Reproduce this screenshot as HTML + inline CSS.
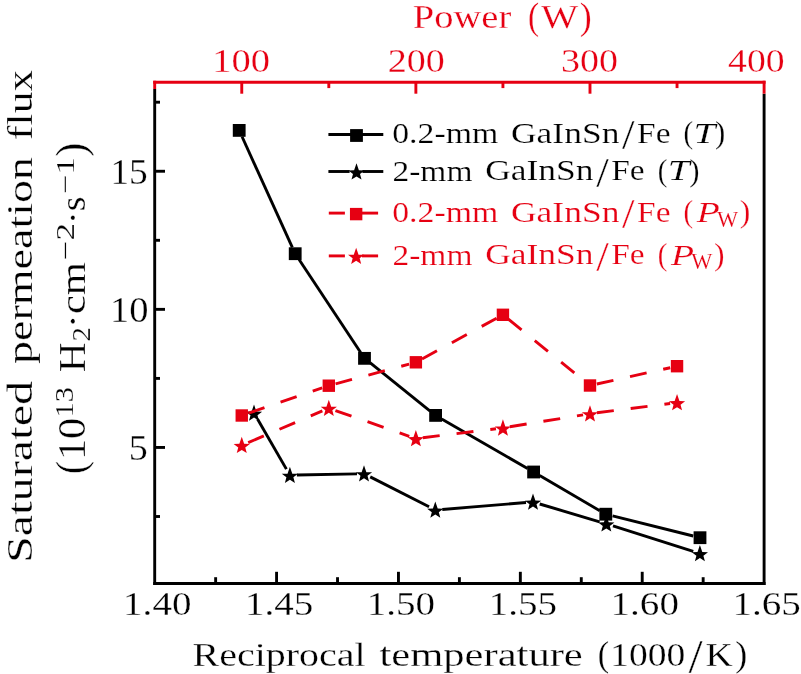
<!DOCTYPE html>
<html><head><meta charset="utf-8"><style>
html,body{margin:0;padding:0;background:#fff;width:801px;height:674px;overflow:hidden}
svg{display:block;will-change:transform}
text{font-family:"Liberation Serif",serif;font-size:80px;stroke:#fff;stroke-width:0.6px}
</style></head><body>
<svg width="801" height="674" viewBox="0 0 801 674">
<rect width="801" height="674" fill="#fff"/>
<line x1="154.70" y1="89.00" x2="154.70" y2="584.95" stroke="#000" stroke-width="2.9" />
<line x1="764.10" y1="93.70" x2="764.10" y2="584.95" stroke="#000" stroke-width="2.9" />
<line x1="153.25" y1="583.50" x2="765.55" y2="583.50" stroke="#000" stroke-width="2.9" />
<line x1="153.25" y1="82.20" x2="765.55" y2="82.20" stroke="#e60012" stroke-width="2.9" />
<line x1="154.70" y1="80.75" x2="154.70" y2="89.00" stroke="#e60012" stroke-width="2.9" />
<line x1="764.10" y1="80.75" x2="764.10" y2="93.70" stroke="#e60012" stroke-width="2.9" />
<line x1="241.76" y1="82.20" x2="241.76" y2="93.70" stroke="#e60012" stroke-width="2.9" />
<line x1="328.81" y1="82.20" x2="328.81" y2="88.10" stroke="#e60012" stroke-width="2.9" />
<line x1="415.87" y1="82.20" x2="415.87" y2="93.70" stroke="#e60012" stroke-width="2.9" />
<line x1="502.93" y1="82.20" x2="502.93" y2="88.10" stroke="#e60012" stroke-width="2.9" />
<line x1="589.99" y1="82.20" x2="589.99" y2="93.70" stroke="#e60012" stroke-width="2.9" />
<line x1="677.04" y1="82.20" x2="677.04" y2="88.10" stroke="#e60012" stroke-width="2.9" />
<line x1="215.64" y1="583.50" x2="215.64" y2="577.20" stroke="#000" stroke-width="2.9" />
<line x1="276.58" y1="583.50" x2="276.58" y2="571.80" stroke="#000" stroke-width="2.9" />
<line x1="337.52" y1="583.50" x2="337.52" y2="577.20" stroke="#000" stroke-width="2.9" />
<line x1="398.46" y1="583.50" x2="398.46" y2="571.80" stroke="#000" stroke-width="2.9" />
<line x1="459.40" y1="583.50" x2="459.40" y2="577.20" stroke="#000" stroke-width="2.9" />
<line x1="520.34" y1="583.50" x2="520.34" y2="571.80" stroke="#000" stroke-width="2.9" />
<line x1="581.28" y1="583.50" x2="581.28" y2="577.20" stroke="#000" stroke-width="2.9" />
<line x1="642.22" y1="583.50" x2="642.22" y2="571.80" stroke="#000" stroke-width="2.9" />
<line x1="703.16" y1="583.50" x2="703.16" y2="577.20" stroke="#000" stroke-width="2.9" />
<line x1="154.70" y1="516.50" x2="160.00" y2="516.50" stroke="#000" stroke-width="2.9" />
<line x1="154.70" y1="447.45" x2="165.00" y2="447.45" stroke="#000" stroke-width="2.9" />
<line x1="154.70" y1="378.40" x2="160.00" y2="378.40" stroke="#000" stroke-width="2.9" />
<line x1="154.70" y1="309.35" x2="165.00" y2="309.35" stroke="#000" stroke-width="2.9" />
<line x1="154.70" y1="240.30" x2="160.00" y2="240.30" stroke="#000" stroke-width="2.9" />
<line x1="154.70" y1="171.25" x2="165.00" y2="171.25" stroke="#000" stroke-width="2.9" />
<line x1="154.70" y1="102.20" x2="160.00" y2="102.20" stroke="#000" stroke-width="2.9" />
<line x1="242.09" y1="136.77" x2="292.31" y2="247.33" stroke="#000" stroke-width="2.9" />
<line x1="299.06" y1="259.54" x2="360.64" y2="352.51" stroke="#000" stroke-width="2.9" />
<line x1="369.96" y1="362.73" x2="430.14" y2="411.02" stroke="#000" stroke-width="2.9" />
<line x1="441.66" y1="418.90" x2="527.54" y2="468.50" stroke="#000" stroke-width="2.9" />
<line x1="539.64" y1="475.53" x2="599.76" y2="510.67" stroke="#000" stroke-width="2.9" />
<line x1="612.59" y1="515.89" x2="693.21" y2="536.01" stroke="#000" stroke-width="2.9" />
<rect x="232.80" y="124.00" width="12.8" height="12.8" fill="#000"/>
<rect x="288.80" y="247.30" width="12.8" height="12.8" fill="#000"/>
<rect x="358.10" y="351.95" width="12.8" height="12.8" fill="#000"/>
<rect x="429.20" y="409.00" width="12.8" height="12.8" fill="#000"/>
<rect x="527.20" y="465.60" width="12.8" height="12.8" fill="#000"/>
<rect x="599.40" y="507.80" width="12.8" height="12.8" fill="#000"/>
<rect x="693.60" y="531.30" width="12.8" height="12.8" fill="#000"/>
<line x1="257.50" y1="419.06" x2="286.40" y2="469.14" stroke="#000" stroke-width="2.9" />
<line x1="296.90" y1="475.06" x2="357.00" y2="473.84" stroke="#000" stroke-width="2.9" />
<line x1="370.24" y1="476.88" x2="429.06" y2="506.82" stroke="#000" stroke-width="2.9" />
<line x1="442.28" y1="509.43" x2="526.02" y2="502.57" stroke="#000" stroke-width="2.9" />
<line x1="539.71" y1="504.00" x2="599.59" y2="521.80" stroke="#000" stroke-width="2.9" />
<line x1="612.97" y1="525.92" x2="693.23" y2="551.38" stroke="#000" stroke-width="2.9" />
<path d="M254.00,404.45 L256.39,411.52 L262.10,411.65 L257.50,415.17 L259.00,420.75 L254.00,417.60 L249.00,420.75 L250.50,415.17 L245.90,411.65 L251.61,411.52Z" fill="#000"/>
<path d="M289.90,466.65 L292.29,473.72 L298.00,473.85 L293.40,477.37 L294.90,482.95 L289.90,479.80 L284.90,482.95 L286.40,477.37 L281.80,473.85 L287.51,473.72Z" fill="#000"/>
<path d="M364.00,465.15 L366.39,472.22 L372.10,472.35 L367.50,475.87 L369.00,481.45 L364.00,478.30 L359.00,481.45 L360.50,475.87 L355.90,472.35 L361.61,472.22Z" fill="#000"/>
<path d="M435.30,501.45 L437.69,508.52 L443.40,508.65 L438.80,512.17 L440.30,517.75 L435.30,514.60 L430.30,517.75 L431.80,512.17 L427.20,508.65 L432.91,508.52Z" fill="#000"/>
<path d="M533.00,493.45 L535.39,500.52 L541.10,500.65 L536.50,504.17 L538.00,509.75 L533.00,506.60 L528.00,509.75 L529.50,504.17 L524.90,500.65 L530.61,500.52Z" fill="#000"/>
<path d="M606.30,515.25 L608.69,522.32 L614.40,522.45 L609.80,525.97 L611.30,531.55 L606.30,528.40 L601.30,531.55 L602.80,525.97 L598.20,522.45 L603.91,522.32Z" fill="#000"/>
<path d="M699.90,544.95 L702.29,552.02 L708.00,552.15 L703.40,555.67 L704.90,561.25 L699.90,558.10 L694.90,561.25 L696.40,555.67 L691.80,552.15 L697.51,552.02Z" fill="#000"/>
<line x1="248.38" y1="413.23" x2="322.19" y2="387.97" stroke="#e60012" stroke-width="2.9" stroke-dasharray="17 17"/>
<line x1="335.57" y1="383.88" x2="409.11" y2="364.12" stroke="#e60012" stroke-width="2.9" stroke-dasharray="17 17"/>
<line x1="422.02" y1="358.95" x2="496.78" y2="318.15" stroke="#e60012" stroke-width="2.9" stroke-dasharray="17 17"/>
<line x1="508.36" y1="319.21" x2="584.55" y2="381.09" stroke="#e60012" stroke-width="2.9" stroke-dasharray="17 17"/>
<line x1="596.82" y1="383.98" x2="670.21" y2="367.72" stroke="#e60012" stroke-width="2.9" stroke-dasharray="17 17"/>
<rect x="235.56" y="409.30" width="12.4" height="12.4" fill="#e60012"/>
<rect x="322.61" y="379.50" width="12.4" height="12.4" fill="#e60012"/>
<rect x="409.67" y="356.10" width="12.4" height="12.4" fill="#e60012"/>
<rect x="496.73" y="308.60" width="12.4" height="12.4" fill="#e60012"/>
<rect x="583.79" y="379.30" width="12.4" height="12.4" fill="#e60012"/>
<rect x="670.84" y="360.00" width="12.4" height="12.4" fill="#e60012"/>
<line x1="248.20" y1="442.56" x2="322.37" y2="410.94" stroke="#e60012" stroke-width="2.9" stroke-dasharray="17 17"/>
<line x1="335.42" y1="410.51" x2="409.26" y2="436.29" stroke="#e60012" stroke-width="2.9" stroke-dasharray="17 17"/>
<line x1="422.82" y1="437.75" x2="495.98" y2="428.75" stroke="#e60012" stroke-width="2.9" stroke-dasharray="17 17"/>
<line x1="509.84" y1="426.77" x2="583.08" y2="414.83" stroke="#e60012" stroke-width="2.9" stroke-dasharray="17 17"/>
<line x1="596.93" y1="412.81" x2="670.10" y2="403.49" stroke="#e60012" stroke-width="2.9" stroke-dasharray="17 17"/>
<path d="M241.76,436.75 L244.14,443.82 L249.86,443.95 L245.26,447.47 L246.76,453.05 L241.76,449.90 L236.76,453.05 L238.25,447.47 L233.66,443.95 L239.37,443.82Z" fill="#e60012"/>
<path d="M328.81,399.65 L331.20,406.72 L336.91,406.85 L332.32,410.37 L333.81,415.95 L328.81,412.80 L323.81,415.95 L325.31,410.37 L320.71,406.85 L326.43,406.72Z" fill="#e60012"/>
<path d="M415.87,430.05 L418.26,437.12 L423.97,437.25 L419.37,440.77 L420.87,446.35 L415.87,443.20 L410.87,446.35 L412.37,440.77 L407.77,437.25 L413.49,437.12Z" fill="#e60012"/>
<path d="M502.93,419.35 L505.31,426.42 L511.03,426.55 L506.43,430.07 L507.93,435.65 L502.93,432.50 L497.93,435.65 L499.43,430.07 L494.83,426.55 L500.54,426.42Z" fill="#e60012"/>
<path d="M589.99,405.15 L592.37,412.22 L598.09,412.35 L593.49,415.87 L594.99,421.45 L589.99,418.30 L584.99,421.45 L586.48,415.87 L581.89,412.35 L587.60,412.22Z" fill="#e60012"/>
<path d="M677.04,394.05 L679.43,401.12 L685.14,401.25 L680.55,404.77 L682.04,410.35 L677.04,407.20 L672.04,410.35 L673.54,404.77 L668.94,401.25 L674.66,401.12Z" fill="#e60012"/>
<line x1="328.40" y1="134.50" x2="383.30" y2="134.50" stroke="#000" stroke-width="2.9" />
<rect x="350.10" y="129.10" width="12.8" height="12.8" fill="#000"/>
<line x1="328.40" y1="171.50" x2="349.60" y2="171.50" stroke="#000" stroke-width="2.9" />
<line x1="362.40" y1="171.50" x2="383.30" y2="171.50" stroke="#000" stroke-width="2.9" />
<path d="M356.50,163.25 L358.89,170.32 L364.60,170.45 L360.00,173.97 L361.50,179.55 L356.50,176.40 L351.50,179.55 L353.00,173.97 L348.40,170.45 L354.11,170.32Z" fill="#000"/>
<line x1="328.80" y1="213.10" x2="344.90" y2="213.10" stroke="#e60012" stroke-width="2.9" />
<line x1="362.00" y1="213.10" x2="378.10" y2="213.10" stroke="#e60012" stroke-width="2.9" />
<rect x="349.95" y="207.90" width="12.4" height="12.4" fill="#e60012"/>
<line x1="328.80" y1="255.90" x2="344.90" y2="255.90" stroke="#e60012" stroke-width="2.9" />
<line x1="362.00" y1="255.90" x2="378.10" y2="255.90" stroke="#e60012" stroke-width="2.9" />
<path d="M356.15,247.65 L358.54,254.72 L364.25,254.85 L359.65,258.37 L361.15,263.95 L356.15,260.80 L351.15,263.95 L352.65,258.37 L348.05,254.85 L353.76,254.72Z" fill="#e60012"/>
<text transform="translate(412.84,27.90) scale(0.4817,0.4302)" fill="#e60012">Power</text>
<text transform="translate(541.00,27.90) scale(0.4933,0.4302)" fill="#e60012">W</text>
<text transform="translate(527.94,28.65) scale(0.4190,0.4616)" fill="#e60012">(</text>
<text transform="translate(579.65,28.65) scale(0.4500,0.4616)" fill="#e60012">)</text>
<text transform="translate(212.13,72.07) scale(0.4818,0.4296)" fill="#e60012">100</text>
<text transform="translate(387.77,72.08) scale(0.4763,0.4218)" fill="#e60012">200</text>
<text transform="translate(560.90,72.08) scale(0.4752,0.4218)" fill="#e60012">300</text>
<text transform="translate(728.06,72.07) scale(0.4713,0.4296)" fill="#e60012">400</text>
<text transform="translate(123.08,614.77) scale(0.4885,0.4296)" fill="#000">1.40</text>
<text transform="translate(244.91,614.77) scale(0.4885,0.4296)" fill="#000">1.45</text>
<text transform="translate(366.79,614.77) scale(0.4885,0.4296)" fill="#000">1.50</text>
<text transform="translate(488.67,614.77) scale(0.4885,0.4296)" fill="#000">1.55</text>
<text transform="translate(610.55,614.77) scale(0.4885,0.4296)" fill="#000">1.60</text>
<text transform="translate(732.43,614.77) scale(0.4885,0.4296)" fill="#000">1.65</text>
<text transform="translate(110.43,183.90) scale(0.4671,0.4377)" fill="#000">15</text>
<text transform="translate(109.93,322.00) scale(0.4814,0.4377)" fill="#000">10</text>
<text transform="translate(128.82,460.10) scale(0.4750,0.4377)" fill="#000">5</text>
<text transform="translate(192.50,665.50) scale(0.5000,0.4245)" fill="#000">Reciprocal</text>
<text transform="translate(379.47,665.50) scale(0.5323,0.4245)" fill="#000">temperature</text>
<text transform="translate(705.55,665.50) scale(0.4727,0.4245)" fill="#000">K</text>
<text transform="translate(610.21,665.58) scale(0.4700,0.4222)" fill="#000">1000</text>
<text transform="translate(597.71,666.07) scale(0.4286,0.4548)" fill="#000">(</text>
<text transform="translate(735.15,666.07) scale(0.4500,0.4548)" fill="#000">)</text>
<text transform="translate(688.50,673.19) scale(0.6364,0.6111)" fill="#000">/</text>
<text transform="translate(31.90,563.12) rotate(-90) scale(0.6037,0.4514)" fill="#000">Saturated</text>
<text transform="translate(31.90,363.98) rotate(-90) scale(0.5754,0.4514)" fill="#000">permeation</text>
<text transform="translate(31.90,139.99) rotate(-90) scale(0.5452,0.4514)" fill="#000">flux</text>
<text transform="translate(85.11,460.11) rotate(-90) scale(0.5300,0.4944)" fill="#000">10</text>
<text transform="translate(84.97,474.19) rotate(-90) scale(0.4952,0.5192)" fill="#000">(</text>
<text transform="translate(73.38,417.57) rotate(-90) scale(0.3814,0.3236)" fill="#000">13</text>
<text transform="translate(84.60,372.34) rotate(-90) scale(0.5189,0.4811)" fill="#000">H</text>
<text transform="translate(90.30,341.48) rotate(-90) scale(0.3606,0.3259)" fill="#000">2</text>
<text transform="translate(84.60,328.18) rotate(-90) scale(0.5316,0.4500)" fill="#000">·cm</text>
<text transform="translate(74.00,260.36) rotate(-90) scale(0.4390,0.3222)" fill="#000">−2</text>
<text transform="translate(84.55,223.88) rotate(-90) scale(0.4761,0.4513)" fill="#000">·s</text>
<text transform="translate(74.00,193.82) rotate(-90) scale(0.4303,0.3264)" fill="#000">−1</text>
<text transform="translate(85.15,156.55) rotate(-90) scale(0.5150,0.5205)" fill="#000">)</text>
<text transform="translate(392.23,143.42) scale(0.4223,0.3759)" fill="#000">0.2-mm</text>
<text transform="translate(510.97,142.80) scale(0.4437,0.3679)" fill="#000">GaInSn</text>
<text transform="translate(637.07,142.80) scale(0.4173,0.3679)" fill="#000">Fe</text>
<text transform="translate(622.10,149.07) scale(0.5636,0.5259)" fill="#000">/</text>
<text transform="translate(683.51,143.15) scale(0.3619,0.3973)" fill="#000">(</text>
<text transform="translate(714.95,143.15) scale(0.3850,0.3973)" fill="#000">)</text>
<text transform="translate(693.45,142.80) scale(0.4909,0.3774)" fill="#000"><tspan font-style="italic">T</tspan></text>
<text transform="translate(392.44,180.70) scale(0.4187,0.3648)" fill="#000">2-mm</text>
<text transform="translate(485.17,180.30) scale(0.4438,0.3679)" fill="#000">GaInSn</text>
<text transform="translate(611.27,180.30) scale(0.4173,0.3679)" fill="#000">Fe</text>
<text transform="translate(596.30,186.57) scale(0.5636,0.5259)" fill="#000">/</text>
<text transform="translate(657.71,180.65) scale(0.3619,0.3973)" fill="#000">(</text>
<text transform="translate(689.15,180.65) scale(0.3850,0.3973)" fill="#000">)</text>
<text transform="translate(667.65,180.30) scale(0.4909,0.3774)" fill="#000"><tspan font-style="italic">T</tspan></text>
<text transform="translate(392.23,221.93) scale(0.4223,0.3722)" fill="#e60012">0.2-mm</text>
<text transform="translate(510.97,221.50) scale(0.4437,0.3679)" fill="#e60012">GaInSn</text>
<text transform="translate(637.07,221.50) scale(0.4173,0.3679)" fill="#e60012">Fe</text>
<text transform="translate(622.10,227.77) scale(0.5636,0.5259)" fill="#e60012">/</text>
<text transform="translate(683.51,221.85) scale(0.3619,0.3973)" fill="#e60012">(</text>
<text transform="translate(739.72,221.85) scale(0.3950,0.3973)" fill="#e60012">)</text>
<text transform="translate(696.70,221.70) scale(0.4723,0.3792)" fill="#e60012"><tspan font-style="italic">P</tspan></text>
<text transform="translate(717.00,226.52) scale(0.2800,0.2796)" fill="#e60012">W</text>
<text transform="translate(392.44,265.10) scale(0.4187,0.3722)" fill="#e60012">2-mm</text>
<text transform="translate(485.17,264.30) scale(0.4438,0.3679)" fill="#e60012">GaInSn</text>
<text transform="translate(611.27,264.30) scale(0.4173,0.3679)" fill="#e60012">Fe</text>
<text transform="translate(596.30,270.57) scale(0.5636,0.5259)" fill="#e60012">/</text>
<text transform="translate(657.71,264.65) scale(0.3619,0.3973)" fill="#e60012">(</text>
<text transform="translate(713.92,264.65) scale(0.3950,0.3973)" fill="#e60012">)</text>
<text transform="translate(670.90,264.50) scale(0.4723,0.3792)" fill="#e60012"><tspan font-style="italic">P</tspan></text>
<text transform="translate(691.20,269.32) scale(0.2800,0.2796)" fill="#e60012">W</text>
</svg>
</body></html>
